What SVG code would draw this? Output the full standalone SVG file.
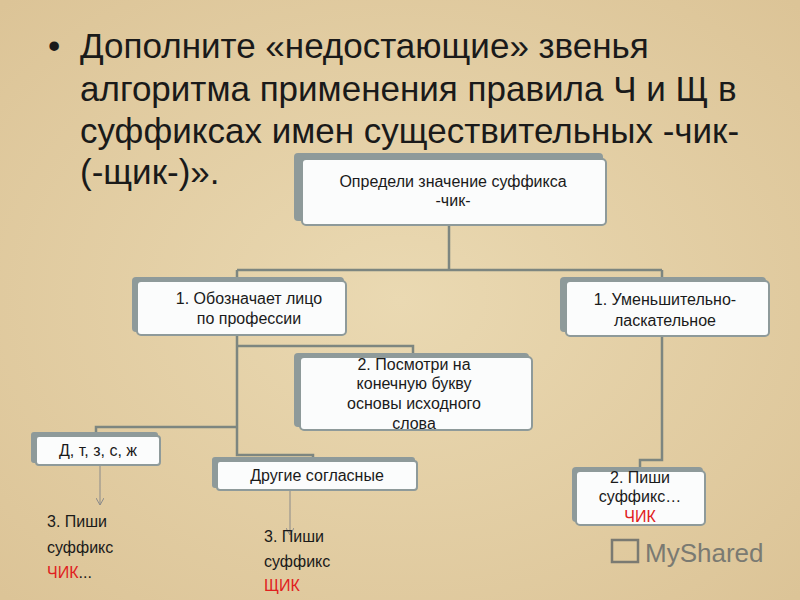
<svg xmlns="http://www.w3.org/2000/svg" width="800" height="600" viewBox="0 0 800 600">
<defs>
<radialGradient id="bg" cx="50%" cy="50%" r="70%"><stop offset="0" stop-color="#ead9b2"/><stop offset="1" stop-color="#dcc497"/></radialGradient>
<marker id="ar" markerWidth="8" markerHeight="8" refX="7" refY="4" orient="auto" markerUnits="userSpaceOnUse"><path d="M0,0 L7,4 L0,8" fill="none" stroke="#8a8a8a" stroke-width="1"/></marker>
</defs>
<style>
text{font-family:"Liberation Sans",Arial,sans-serif;fill:#1a1a1a}
.sh{fill:#8e9a9a}
.bx{fill:#fbfcfc;stroke:#8e9a9a;stroke-width:2}
.t{font-size:16px;text-anchor:middle}
.l{font-size:16px}
.red{fill:#e02020}
.c{fill:none;stroke:#7d8680;stroke-width:2.5}
.title{font-size:35px}
</style>
<rect width="800" height="600" fill="url(#bg)"/>
<g id="title">
<text x="48" y="58" class="title">•</text>
<text x="80" y="58" class="title">Дополните «недостающие» звенья</text>
<text x="80" y="101" class="title">алгоритма применения правила Ч и Щ в</text>
<text x="80" y="143" class="title">суффиксах имен существительных -чик-</text>
<text x="80" y="184" class="title">(-щик-)».</text>
</g>
<g id="connectors">
<path class="c" d="M449,226 V270 M237,270 H662 M237,270 V280 M662,270 V280"/>
<path class="c" d="M237,335 V455 H313 V460 M237,346 H413 V356 M237,427 H96 V435"/>
<path class="c" d="M662,336 V460 H640 V470"/>
<line x1="100" y1="465" x2="100" y2="505" stroke="#8a8a8a" stroke-width="1" marker-end="url(#ar)"/>
<line x1="290" y1="490" x2="290" y2="535" stroke="#8a8a8a" stroke-width="1" marker-end="url(#ar)"/>
</g>
<g id="n0"><rect class="sh" x="294" y="153" width="309" height="68" rx="4"/><rect class="bx" x="302" y="159" width="304" height="66" rx="4"/>
<text class="t" x="453" y="187">Определи значение суффикса</text><text class="t" x="453" y="206">-чик-</text></g>
<g id="n1"><rect class="sh" x="132" y="277" width="212" height="55" rx="4"/><rect class="bx" x="137" y="281" width="209" height="54" rx="4"/>
<text class="t" x="249" y="304">1. Обозначает лицо</text><text class="t" x="249" y="324">по профессии</text></g>
<g id="n2"><rect class="sh" x="560" y="277" width="206" height="55" rx="4"/><rect class="bx" x="566" y="281" width="203" height="55" rx="4"/>
<text class="t" x="665" y="305">1. Уменьшительно-</text><text class="t" x="665" y="326">ласкательное</text></g>
<g id="n3"><rect class="sh" x="294" y="353" width="235" height="74" rx="4"/><rect class="bx" x="300" y="357" width="232" height="73" rx="4"/>
<text class="t" x="414" y="370">2. Посмотри на</text><text class="t" x="414" y="389">конечную букву</text><text class="t" x="414" y="409">основы исходного</text><text class="t" x="414" y="429">слова</text></g>
<g id="n4"><rect class="sh" x="31" y="432" width="127" height="31" rx="3"/><rect class="bx" x="36" y="436" width="124" height="29" rx="3"/>
<text class="t" x="98" y="456">Д, т, з, с, ж</text></g>
<g id="n5"><rect class="sh" x="212" y="457" width="203" height="31" rx="3"/><rect class="bx" x="217" y="461" width="200" height="29" rx="3"/>
<text class="t" x="317" y="481">Другие согласные</text></g>
<g id="n6"><rect class="sh" x="572" y="467" width="131" height="55" rx="4"/><rect class="bx" x="576" y="471" width="129" height="54" rx="4"/>
<text class="t" x="640" y="483">2. Пиши</text><text class="t" x="640" y="502">суффикс…</text><text class="t red" x="640" y="522">ЧИК</text></g>
<g id="lbl1"><text class="l" x="47" y="527">3. Пиши</text><text class="l" x="47" y="553">суффикс</text><text class="l" x="47" y="578"><tspan class="red">ЧИК</tspan>...</text></g>
<g id="lbl2"><text class="l" x="264" y="542">3. Пиши</text><text class="l" x="264" y="567">суффикс</text><text class="l red" x="264" y="591">ЩИК</text></g>
<text x="645" y="562" style="font-size:26px;fill:#7a7a72">MyShared</text>
<rect x="612" y="540" width="26" height="22" fill="none" stroke="#7a7a72" stroke-width="2.5"/>
</svg>
